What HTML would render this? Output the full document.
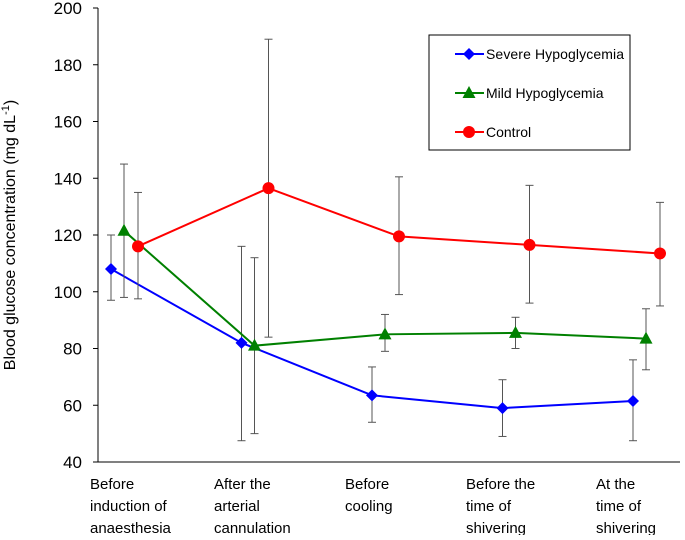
<!DOCTYPE html>
<html><head><meta charset="utf-8"><style>
body{margin:0;background:#fff;}
svg{font-family:"Liberation Sans",sans-serif;}
</style></head><body>
<svg id="c" width="685" height="535" xmlns="http://www.w3.org/2000/svg"></svg>
<script>
const categories=[["Before","induction of","anaesthesia"],["After the","arterial","cannulation"],["Before","cooling"],["Before the","time of","shivering"],["At the","time of","shivering"]];
const yTicks=[40,60,80,100,120,140,160,180,200];
const severe=[108,82,63.5,59,61.5];
const severeLo=[97,47.5,54,49,47.5];
const severeHi=[120,116,73.5,69,76];
const mild=[121.5,81,85,85.5,83.5];
const mildLo=[98,50,79,80,72.5];
const mildHi=[145,112,92,91,94];
const control=[116,136.5,119.5,116.5,113.5];
const controlLo=[97.5,84,99,96,95];
const controlHi=[135,189,140.5,137.5,131.5];
const series=[
 {name:"Severe Hypoglycemia",v:severe,lo:severeLo,hi:severeHi,color:"#0000ff",mk:"diamond",off:-13,id:"severe"},
 {name:"Mild Hypoglycemia",v:mild,lo:mildLo,hi:mildHi,color:"#008000",mk:"triangle",off:0,id:"mild"},
 {name:"Control",v:control,lo:controlLo,hi:controlHi,color:"#ff0000",mk:"circle",off:14,id:"control"}];
const svg=document.getElementById('c');const NS="http://www.w3.org/2000/svg";
function y(v){return 462-(v-40)*454/160;}
function x(i){return 124+i*130.5;}
function el(t,a,p){const e=document.createElementNS(NS,t);for(const k in a)e.setAttribute(k,a[k]);(p||svg).appendChild(e);return e;}
let ax=el('line',{x1:98,y1:8,x2:98,y2:462,stroke:'#000','stroke-width':1});

let bx=el('line',{x1:98,y1:462,x2:680,y2:462,stroke:'#000','stroke-width':1});

yTicks.forEach(t=>{
 el('line',{x1:93,x2:98,y1:y(t),y2:y(t),stroke:'#000'});
 const tx=el('text',{x:82,y:y(t)+6,'text-anchor':'end','font-size':17});tx.textContent=t;
 
});
const lx=[90,214,345,466,596];
categories.forEach((c,i)=>{
 const t=el('text',{x:lx[i],y:489,'font-size':15});
 
 c.forEach((s,j)=>{const ts=el('tspan',{x:lx[i],dy:j?22:0},t);ts.textContent=s;});
});
const yl=el('text',{transform:'translate(15,235) rotate(-90)','text-anchor':'middle','font-size':16});

yl.innerHTML='Blood glucose concentration (mg dL<tspan dy="-6" font-size="11">-1</tspan><tspan dy="6">)</tspan>';
function marker(mk,cx,cy,color,g){
 if(mk==='diamond')return el('polygon',{points:`${cx},${cy-6} ${cx+6},${cy} ${cx},${cy+6} ${cx-6},${cy}`,fill:color},g);
 if(mk==='triangle')return el('polygon',{points:`${cx},${cy-7} ${cx+6.5},${cy+5} ${cx-6.5},${cy+5}`,fill:color},g);
 return el('circle',{cx:cx,cy:cy,r:6,fill:color},g);
}
series.forEach(s=>{
 const g=el('g',{});
 
 s.v.forEach((v,i)=>{const X=x(i)+s.off;
  el('line',{x1:X,x2:X,y1:y(s.lo[i]),y2:y(s.hi[i]),stroke:'#555','stroke-width':1},g);
  el('line',{x1:X-4,x2:X+4,y1:y(s.lo[i]),y2:y(s.lo[i]),stroke:'#555'},g);
  el('line',{x1:X-4,x2:X+4,y1:y(s.hi[i]),y2:y(s.hi[i]),stroke:'#555'},g);
 });
 el('polyline',{points:s.v.map((v,i)=>(x(i)+s.off)+','+y(v)).join(' '),fill:'none',stroke:s.color,'stroke-width':2},g);
 s.v.forEach((v,i)=>{const m=marker(s.mk,x(i)+s.off,y(v),s.color,g);
  });
});
const lg=el('g',{});
el('rect',{x:429,y:35,width:201,height:115,fill:'#fff',stroke:'#000'},lg);
series.forEach((s,i)=>{const Y=54+i*39;
 const e=el('g',{},lg);
 el('line',{x1:455,x2:484,y1:Y,y2:Y,stroke:s.color,'stroke-width':2},e);
 marker(s.mk,469,Y,s.color,e);
 const t=el('text',{x:486,y:Y+5,'font-size':14,textLength:s.id==='severe'?138:null},e);t.textContent=s.name;
 if(s.id!=='severe')t.removeAttribute('textLength');
});
</script>
</body></html>
